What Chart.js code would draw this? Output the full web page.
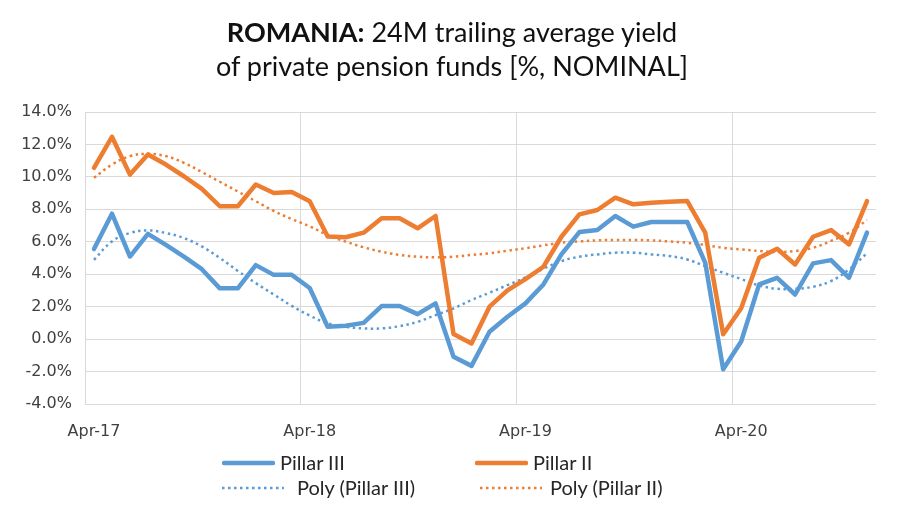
<!DOCTYPE html>
<html>
<head>
<meta charset="utf-8">
<script src="https://cdn.jsdelivr.net/npm/chart.js@4.4.0/dist/chart.umd.min.js"></script>
<style>
  html, body { margin: 0; padding: 0; background: #fff; }
  #wrap { position: relative; width: 900px; height: 510px; overflow: hidden; }
  #chart { position: absolute; left: 0; top: 0; }
  .title {
    position: absolute; left: 0; width: 904px; text-align: center;
    font-family: Lato, sans-serif; font-size: 27px; color: #111; line-height: 34px;
  }
  .leg { position: absolute; font-family: Lato, sans-serif; font-size: 20px; color: #262626; white-space: nowrap; }
  #legend svg { position: absolute; }
</style>
</head>
<body>
<div id="wrap">
  <canvas id="chart" width="900" height="510"></canvas>
  <div class="title" style="top:15px"><b>ROMANIA:</b> 24M trailing average yield</div>
  <div class="title" style="top:49px">of private pension funds [%, NOMINAL]</div>
  <div id="legend"></div>
</div>
<script>
// monthly categories, Apr-17 .. Nov-20
const months = [
  'Apr-17', 'May-17', 'Jun-17', 'Jul-17', 'Aug-17', 'Sep-17', 'Oct-17', 'Nov-17', 'Dec-17', 'Jan-18', 'Feb-18', 'Mar-18',
  'Apr-18', 'May-18', 'Jun-18', 'Jul-18', 'Aug-18', 'Sep-18', 'Oct-18', 'Nov-18', 'Dec-18', 'Jan-19', 'Feb-19', 'Mar-19',
  'Apr-19', 'May-19', 'Jun-19', 'Jul-19', 'Aug-19', 'Sep-19', 'Oct-19', 'Nov-19', 'Dec-19', 'Jan-20', 'Feb-20', 'Mar-20',
  'Apr-20', 'May-20', 'Jun-20', 'Jul-20', 'Aug-20', 'Sep-20', 'Oct-20', 'Nov-20',
];

// 24M trailing average yield, %
const pillarIII = [
  5.55, 7.73, 5.09, 6.49, 5.81, 5.09, 4.31, 3.13, 3.13, 4.56, 3.96, 3.96,
  3.15, 0.76, 0.82, 1.00, 2.04, 2.04, 1.54, 2.20, -1.09, -1.65, 0.45, 1.38,
  2.20, 3.37, 5.22, 6.60, 6.72, 7.59, 6.93, 7.22, 7.22, 7.22, 4.71, -1.86,
  -0.15, 3.37, 3.78, 2.75, 4.67, 4.87, 3.78, 6.56,
];
const pillarII = [
  10.56, 12.47, 10.14, 11.38, 10.76, 10.04, 9.26, 8.19, 8.19, 9.53, 9.01, 9.07,
  8.50, 6.32, 6.28, 6.56, 7.45, 7.45, 6.83, 7.59, 0.31, -0.27, 2.00, 3.00,
  3.70, 4.46, 6.31, 7.69, 7.96, 8.72, 8.31, 8.41, 8.47, 8.51, 6.56, 0.30,
  1.90, 5.02, 5.57, 4.60, 6.31, 6.72, 5.84, 8.51,
];

// polynomial trendlines
const polyIII = [
  4.89, 6.02, 6.54, 6.70, 6.54, 6.23, 5.71, 5.00, 4.20, 3.45, 2.75, 2.05,
  1.45, 0.97, 0.76, 0.66, 0.66, 0.80, 1.07, 1.48, 1.89, 2.41, 2.86, 3.33,
  3.80, 4.34, 4.81, 5.08, 5.22, 5.33, 5.33, 5.22, 5.12, 4.91, 4.50, 4.09,
  3.70, 3.31, 3.10, 3.10, 3.23, 3.58, 4.30, 5.30,
];
const polyII = [
  9.94, 10.76, 11.28, 11.42, 11.28, 10.87, 10.30, 9.70, 9.10, 8.50, 7.90, 7.40,
  6.95, 6.42, 6.01, 5.66, 5.39, 5.19, 5.08, 5.04, 5.08, 5.19, 5.29, 5.45,
  5.60, 5.78, 5.94, 6.02, 6.09, 6.11, 6.11, 6.09, 6.02, 5.94, 5.80, 5.63,
  5.53, 5.43, 5.37, 5.43, 5.63, 6.05, 6.56, 7.34,
];

const yTicks = [-4, -2, 0, 2, 4, 6, 8, 10, 12, 14];

const BLUE = '#5b9bd5';
const ORANGE = '#ed7d31';
const GRID = '#d9d9d9';
const TICK_FONT = { family: 'DejaVu Sans, sans-serif', size: 16 };

const solid = (label, data, color) => ({
  label, data,
  borderColor: color, backgroundColor: color,
  borderWidth: 4.5, pointRadius: 0, tension: 0,
  borderJoinStyle: 'round', borderCapStyle: 'round',
});
const dotted = (label, data, color) => ({
  label, data,
  borderColor: color, backgroundColor: color,
  borderWidth: 2.5, borderDash: [2.5, 3.5], pointRadius: 0, tension: 0.4,
});

new Chart(document.getElementById('chart'), {
  type: 'line',
  data: {
    labels: months,
    datasets: [
      solid('Pillar III', pillarIII, BLUE),
      solid('Pillar II', pillarII, ORANGE),
      dotted('Poly (Pillar III)', polyIII, BLUE),
      dotted('Poly (Pillar II)', polyII, ORANGE),
    ],
  },
  options: {
    responsive: false,
    animation: false,
    layout: { padding: { top: 112, right: 24, bottom: 70, left: 0 } },
    plugins: { legend: { display: false }, title: { display: false }, tooltip: { enabled: false } },
    scales: {
      x: {
        offset: true,
        afterFit: (s) => { s.height = 36; },
        border: { display: false },
        grid: {
          offset: true,
          drawTicks: false,
          color: (c) => (c.index !== undefined && c.index % 12 === 0 ? GRID : 'rgba(0,0,0,0)'),
        },
        ticks: {
          autoSkip: false, maxRotation: 0, minRotation: 0, padding: 18,
          color: '#404040', font: TICK_FONT,
          callback: function (v, i) { return i % 12 === 0 ? this.getLabelForValue(v) : ''; },
        },
      },
      y: {
        min: -4, max: 14,
        afterFit: (s) => { s.width = 85; },
        afterBuildTicks: (s) => { s.ticks = yTicks.map((v) => ({ value: v })); },
        border: { display: false },
        grid: { color: GRID, drawTicks: false },
        ticks: {
          padding: 13, color: '#404040', font: TICK_FONT,
          callback: (v) => v.toFixed(1) + '%',
        },
      },
    },
  },
});

// legend, laid out like the Excel one (2 x 2)
const legendItems = [
  { text: 'Pillar III', color: BLUE, dash: false, x: 222, y: 463, tx: 280 },
  { text: 'Pillar II', color: ORANGE, dash: false, x: 475, y: 463, tx: 533 },
  { text: 'Poly (Pillar III)', color: BLUE, dash: true, x: 222, y: 488, tx: 297 },
  { text: 'Poly (Pillar II)', color: ORANGE, dash: true, x: 480, y: 488, tx: 550 },
];
const legend = document.getElementById('legend');
legendItems.forEach((it) => {
  const w = it.dash ? 62 : 53;
  const sw = it.dash ? 2.5 : 4.5;
  const dash = it.dash ? 'stroke-dasharray="2.5 3.5"' : 'stroke-linecap="round"';
  legend.insertAdjacentHTML('beforeend',
    `<svg style="left:${it.x}px;top:${it.y - 5}px" width="${w}" height="10">` +
    `<line x1="${it.dash ? 0 : 2}" y1="5" x2="${it.dash ? w : w - 2}" y2="5" stroke="${it.color}" stroke-width="${sw}" ${dash}/></svg>` +
    `<div class="leg" style="left:${it.tx}px;top:${it.y - 13}px">${it.text}</div>`);
});
</script>
</body>
</html>
